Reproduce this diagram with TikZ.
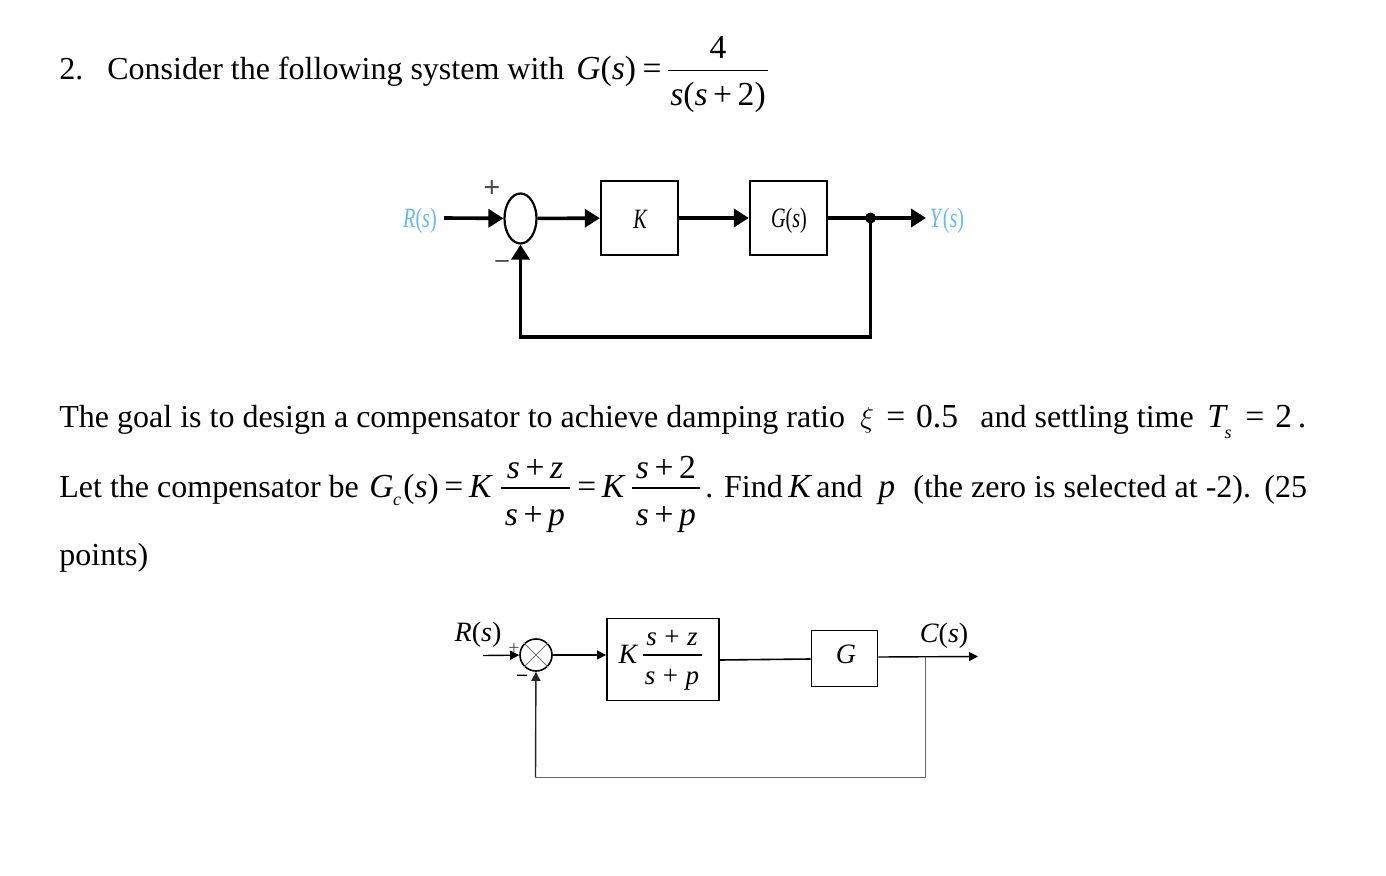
\documentclass[tikz,border=0pt]{standalone}
\usepackage{fontspec}
\setmainfont{Liberation Serif}
\usetikzlibrary{shapes.geometric, arrows.meta}
\newcommand{\bodyfont}{\fontsize{16pt}{20pt}\selectfont}
\newcommand{\mathfont}{\fontsize{16.8pt}{20pt}\selectfont}
\newcommand{\smallfont}{\fontsize{14pt}{16pt}\selectfont}
\definecolor{sigblue}{HTML}{62BBEA}
\tikzset{
    txt/.style={anchor=base west, inner sep=0pt, font=\bodyfont},
    mth/.style={anchor=base, inner sep=0pt, font=\mathfont\itshape},
    sym/.style={anchor=base, inner sep=0pt, font=\mathfont},
    lab/.style={inner sep=0pt, font=\smallfont\itshape},
    thick box/.style={draw, line width=1.2pt, minimum width=38.5pt, minimum height=37pt, inner sep=0pt},
    thin box/.style={draw, line width=.9pt, inner sep=0pt},
    heavy/.style={line width=1.8pt, -{Stealth[inset=0pt, length=7.5pt, width=9pt]}},
    light/.style={line width=.7pt, -{Stealth[inset=0pt, length=4.5pt, width=4.5pt]}},
}
\begin{document}
\begin{tikzpicture}[x=0.5pt, y=-0.5pt]
    \useasboundingbox (0, 0) rectangle (1386, 876);

    % first line
    \node [txt] (num) at (59, 80) {2.};
    \node [txt] (intro) at (107, 80) {Consider the following system with};
    \node [mth, anchor=base west] (gs) at (576, 80) {G\textup{(}s\textup{)}};
    \node [sym] (eqa) at (652, 80) {=};
    \node [sym] (four) at (718, 59) {4};
    \node [mth] (den) at (718, 106) {s\textup{(}s\,\textup{+}\,\textup{2)}};
    \draw [line width=.6pt] (668, 70.5) -- (768, 70.5);

    % first diagram
    \node [draw, ellipse, line width=1.1pt, minimum width=16pt, minimum height=25pt, inner sep=0pt] (sumone) at (520.5, 218.5) {};
    \node [thick box] (kbox) at (639.5, 218) {};
    \node [lab, xscale=.72] (klab) at (640, 219) {K};
    \node [thick box] (gbox) at (788.5, 218) {};
    \node [lab, xscale=.72] (glab) at (789, 221) {G\textup{(}s\textup{)}};
    \node [lab, xscale=.72, text=sigblue] (rone) at (420, 221) {R\textup{(}s\textup{)}};
    \node [lab, xscale=.72, text=sigblue] (yone) at (947, 221) {Y\textup{(}s\textup{)}};
    \node [lab, font=\fontsize{15pt}{16pt}\bfseries\selectfont, text=black!70] (plusone) at (492, 189) {+};
    \node [lab, font=\fontsize{13pt}{14pt}\bfseries\selectfont, text=black!70] (minusone) at (502, 264) {\textendash};
    \coordinate (inone) at (444, 218);
    \coordinate (outone) at (926, 218);
    \coordinate (branchone) at (870.5, 218);
    \coordinate (fbone) at (520.5, 337);
    \draw [heavy] (inone) -- (sumone);
    \draw [heavy] (sumone) -- (kbox);
    \draw [heavy] (kbox) -- (gbox);
    \draw [heavy] (gbox) -- (outone);
    \draw [heavy] (branchone) |- (fbone) -- (sumone);
    \fill (branchone) circle (5.5);

    % second paragraph
    \node [txt] (goal) at (59, 428) {The goal is to design a compensator to achieve damping ratio};
    \node [sym, anchor=base west, font=\fontsize{14pt}{16pt}\selectfont] (xi) at (860, 428) {$\xi$};
    \node [sym, anchor=base west] (xival) at (886, 428) {=\kern .7ex 0.5};
    \node [txt] (settle) at (980, 428) {and settling time};
    \node [mth, anchor=base west] (ts) at (1207, 428) {T};
    \node [mth, font=\fontsize{9pt}{10pt}\selectfont\itshape] (tsub) at (1228, 439) {s};
    \node [sym, anchor=base west] (tsval) at (1245, 428) {=\kern .72ex 2\,.};

    \node [txt] (let) at (59, 498) {Let the compensator be};
    \node [mth, anchor=base west] (gc) at (369, 498) {G};
    \node [mth, font=\fontsize{9pt}{10pt}\selectfont\itshape] (csub) at (397, 506) {c};
    \node [mth, anchor=base west] (gcb) at (403, 498) {\textup{(}s\textup{)\,=\,}K};
    \node [mth] (numa) at (535, 479) {s\,\textup{+}\,z};
    \node [mth] (dena) at (535, 525) {s\,\textup{+}\,p};
    \draw [line width=.6pt] (501, 488) -- (570, 488);
    \node [mth, anchor=base west] (eqk) at (577, 498) {\textup{=\,}K};
    \node [mth] (numb) at (666, 479) {s\,\textup{+\,2}};
    \node [mth] (denb) at (666, 525) {s\,\textup{+}\,p};
    \draw [line width=.6pt] (632, 488) -- (700, 488);
    \node [txt] (find) at (705, 498) {. Find};
    \node [mth, anchor=base west] (kvar) at (788, 498) {K};
    \node [txt] (and) at (816, 498) {and};
    \node [mth, anchor=base west] (pvar) at (878, 498) {p};
    \node [txt] (zero) at (913, 498) {(the zero is selected at -2).};
    \node [txt] (pts) at (1264, 498) {(25};
    \node [txt] (points) at (59, 566) {points)};

    % second diagram
    \node [draw, circle, line width=.8pt, minimum size=16pt, inner sep=0pt] (sumtwo) at (536, 655) {};
    \draw [line width=.4pt, black!55] (sumtwo.north west) -- (sumtwo.south east);
    \draw [line width=.4pt, black!55] (sumtwo.north east) -- (sumtwo.south west);
    \node [thin box, minimum width=56pt, minimum height=41pt] (cbox) at (663, 659.5) {};
    \node [lab, anchor=base] (kcomp) at (628, 663) {K};
    \node [mth, font=\fontsize{13.5pt}{14pt}\selectfont\itshape] (numc) at (672, 645) {s\;\textup{+}\;z};
    \node [mth, font=\fontsize{13.5pt}{14pt}\selectfont\itshape] (denc) at (672, 684) {s\;\textup{+}\;p};
    \draw [line width=.6pt] (643, 655) -- (702, 655);
    \node [thin box, minimum width=33pt, minimum height=28pt] (plant) at (844.5, 658.5) {};
    \node [lab] (glabb) at (846, 654) {G};
    \node [lab] (rtwo) at (478, 634.5) {R\textup{(}s\textup{)}};
    \node [lab] (ctwo) at (944, 635.5) {C\textup{(}s\textup{)}};
    \node [lab, font=\fontsize{10pt}{11pt}\selectfont, text=black!70] (plustwo) at (514, 649) {+};
    \node [lab, font=\fontsize{10pt}{11pt}\bfseries\selectfont] (minustwo) at (522, 678) {\textendash};
    \coordinate (intwo) at (483, 655.5);
    \coordinate (outtwo) at (978, 656.5);
    \coordinate (branchtwo) at (925.5, 657);
    \coordinate (fbtwo) at (535.5, 777.5);
    \draw [light] (intwo) -- (sumtwo);
    \draw [light] (sumtwo) -- (sumtwo -| cbox.west);
    \draw [line width=.8pt] (cbox.east |- 0, 660) -- (plant.west |- 0, 659);
    \draw [light] (plant.east |- 0, 657) -- (outtwo);
    \draw [line width=.6pt, black!60] (branchtwo) |- (fbtwo);
    \draw [light, black!85] (fbtwo) -- (sumtwo);
\end{tikzpicture}
\end{document}
